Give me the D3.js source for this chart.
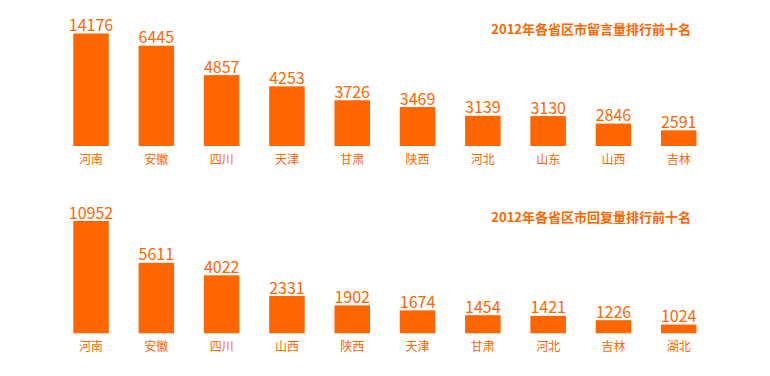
<!DOCTYPE html>
<html>
<head>
<meta charset="utf-8">
<script src="https://cdn.jsdelivr.net/npm/d3@7"></script>
<style>
  body { margin: 0; background: #fff; }
  svg text { font-family: "Noto Sans CJK SC", "Noto Sans", sans-serif; fill: #ff6600; }
</style>
</head>
<body>
<svg id="chart" width="770" height="376"></svg>
<script>
// data
var msgTitle = '2012年各省区市留言量排行前十名';
var msgCats = ['河南', '安徽', '四川', '天津', '甘肃', '陕西', '河北', '山东', '山西', '吉林'];
var msgValues = [14176, 6445, 4857, 4253, 3726, 3469, 3139, 3130, 2846, 2591];

var replyTitle = '2012年各省区市回复量排行前十名';
var replyCats = ['河南', '安徽', '四川', '山西', '陕西', '天津', '甘肃', '河北', '吉林', '湖北'];
var replyValues = [10952, 5611, 4022, 2331, 1902, 1674, 1454, 1421, 1226, 1024];

var orange = '#ff6600';
var svg = d3.select('#chart');

// the original bars are not proportional, so each panel gets a compressed (polylinear) scale
var panels = [
    {
        title: msgTitle, cats: msgCats, values: msgValues, base: 146, titleY: 33.5,
        y: d3.scaleLinear().domain([2000, 4253, 6445, 14176]).range([146, 86.3, 45.7, 33.5])
    },
    {
        title: replyTitle, cats: replyCats, values: replyValues, base: 333.3, titleY: 222,
        y: d3.scaleLinear().domain([626, 2331, 4022, 10952]).range([333.3, 296, 275.3, 221])
    }
];

panels.forEach(function(p) {
    var g = svg.append('g');

    var x = d3.scaleBand()
        .domain(p.cats)
        .range([58.4, 711.4])
        .paddingInner(0.456)
        .paddingOuter(0.228);

    var data = p.cats.map(function(c, i) { return { cat: c, value: p.values[i] }; });

    g.selectAll('rect')
        .data(data)
        .enter()
        .append('rect')
        .attr('x', function(d) { return x(d.cat); })
        .attr('y', function(d) { return p.y(d.value); })
        .attr('width', x.bandwidth())
        .attr('height', function(d) { return p.base - p.y(d.value); })
        .style('fill', orange);

    g.selectAll('text.val')
        .data(data)
        .enter()
        .append('text')
        .attr('class', 'val')
        .attr('x', function(d) { return x(d.cat) + x.bandwidth() / 2; })
        .attr('y', function(d) { return p.y(d.value) - 2.5; })
        .attr('text-anchor', 'middle')
        .style('font-size', '16px')
        .text(function(d) { return d.value; });

    var axis = g.append('g')
        .attr('transform', 'translate(0,' + p.base + ')')
        .call(d3.axisBottom(x).tickSize(0).tickPadding(9));
    axis.select('.domain').remove();
    axis.selectAll('text')
        .style('font-size', '12px')
        .style('fill', orange)
        .attr('font-family', null);

    g.append('text')
        .attr('x', 691)
        .attr('y', p.titleY)
        .attr('text-anchor', 'end')
        .style('font-size', '13px')
        .style('font-weight', 'bold')
        .text(p.title);
});
</script>
</body>
</html>
